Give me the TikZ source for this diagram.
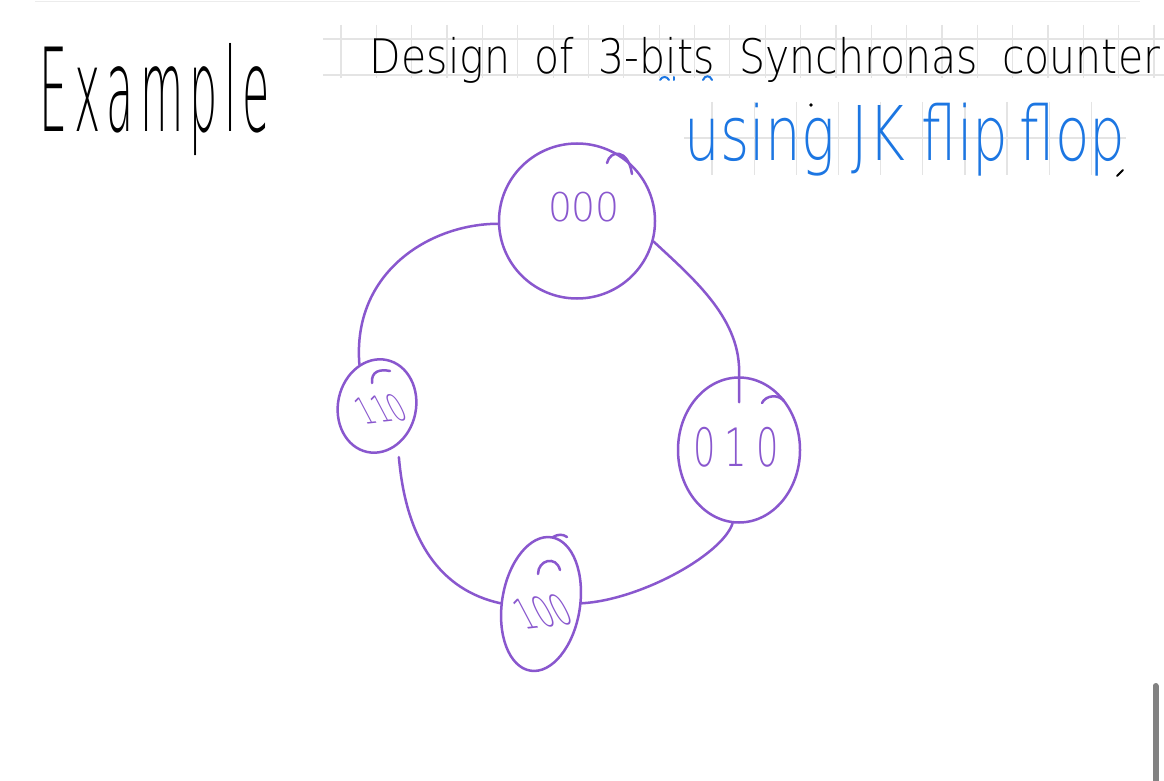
\documentclass[tikz,border=0pt]{standalone}
\usepackage{fontspec}
\usepackage{graphicx}
\newfontfamily\hand{DejaVu Sans ExtraLight}
\newfontfamily\handwide{DejaVu Sans ExtraLight}[LetterSpace=14]
\usetikzlibrary{shapes.geometric}
\definecolor{pur}{RGB}{137,87,206}
\definecolor{jkblue}{RGB}{28,118,226}
\definecolor{gridc}{RGB}{228,228,228}
\definecolor{topc}{RGB}{236,236,236}
\definecolor{barc}{RGB}{130,130,130}
\tikzset{
  state/.style={ellipse, draw=pur, line width=2.5pt, inner sep=0pt},
  link/.style={draw=pur, line width=2.5pt, line cap=round},
  penmark/.style={draw=pur, line width=2.5pt, line cap=round},
  lab/.style={text=pur, inner sep=0pt, font=\hand},
  gridline/.style={draw=gridc, line width=1.2pt},
  ink/.style={inner sep=0pt, font=\hand},
}
\begin{document}
\begin{tikzpicture}[x=1pt,y=-1pt]
\useasboundingbox (0,0) rectangle (1164,781);
\fill[white] (0,0) rectangle (1164,781);
% page decorations
\draw[topc, line width=1.5pt] (35,1.5) -- (1140,1.5);
\draw[barc, line width=6pt, line cap=round] (1155.5,686) -- (1155.5,795);
% grids
\foreach \i in {0,...,23} \draw[gridline] ({341+35.35*\i},25) -- ({341+35.35*\i},78);
\draw[gridline] (323,39) -- (1164,39);
\draw[gridline] (323,75) -- (1164,75);
\foreach \i in {0,...,9} \draw[gridline] ({712+42.15*\i},102) -- ({712+42.15*\i},175);
\draw[gridline] (684,138) -- (1126,138);
% texts
\node[ink, font=\handwide] (example) at (155,100) {\resizebox{230pt}{88pt}{Example}};
\node[ink] (title) at (765,60) {\resizebox*{790pt}{46pt}{Design\hspace{0.6em}of\hspace{0.6em}3-bits\hspace{0.6em}Synchronas\hspace{0.6em}counter}};
\node[ink, text=jkblue] (using) at (905,139.5) {\resizebox*{440pt}{73pt}{using\hspace{0.3em}JK\hspace{0.3em}flip\hspace{0.2em}flop}};
% small stray marks
\draw[jkblue, line width=2pt, line cap=round] (660,80) .. controls (662,76) and (667,76) .. (669,80);
\draw[jkblue, line width=2pt, line cap=round] (674,80) -- (674,77);
\draw[jkblue, line width=2pt, line cap=round] (703,80) .. controls (705,75) and (710,75) .. (712,80);
\fill[black] (811,105) circle (1.8pt);
\draw[black, line width=2pt, line cap=round] (1117,176) -- (1123,170);
% states
\node[state, minimum width=156pt, minimum height=155pt] (n000) at (577,221) {};
\node[state, minimum width=78pt, minimum height=94pt, rotate=-12] (n110) at (377,406) {};
\node[state, minimum width=122pt, minimum height=145pt] (n010) at (739,450) {};
\node[state, minimum width=78pt, minimum height=135pt, rotate=-9] (n100) at (541,604) {};
% state labels
\node[lab] (t000) at (584,207) {\resizebox*{72pt}{30pt}{000}};
\node[lab] (t010) at (736,447) {\resizebox*{85pt}{40pt}{0\hspace{0.25em}1\hspace{0.25em}0}};
\begin{scope}[shift={(381,409)}, rotate=6, xslant=-0.4]
\node[lab, transform shape] (t110) at (0,0) {\resizebox*{46pt}{28pt}{110}};
\end{scope}
\begin{scope}[shift={(543,612)}, rotate=6, xslant=-0.4]
\node[lab, transform shape] (t100) at (0,0) {\resizebox*{52pt}{32pt}{100}};
\end{scope}
% pen marks on the circles
\draw[penmark] (607,163) .. controls (610,150) and (628,148) .. (632,174);
\draw[penmark] (762,403) .. controls (766,395) and (778,394) .. (784,401);
\draw[penmark] (372,383) .. controls (371,371) and (380,369) .. (390,371);
\draw[penmark] (538,574) .. controls (538,560) and (556,555) .. (560,570);
\draw[penmark] (553,537) .. controls (558,534) and (563,534) .. (567,537);
% transitions
\draw[link] (n000.182) .. controls (430,224) and (352,272) .. (n110.125);
\draw[link] (n000.-15) .. controls (695,280) and (742,320) .. (n010.north) -- ([yshift=-26pt]n010.north);
\draw[link] (n010.-95) .. controls (722,555) and (640,600) .. (n100.10);
\draw[link, shorten >=12pt] (n100.188) .. controls (440,590) and (406,540) .. (n110.-50);
\end{tikzpicture}
\end{document}
